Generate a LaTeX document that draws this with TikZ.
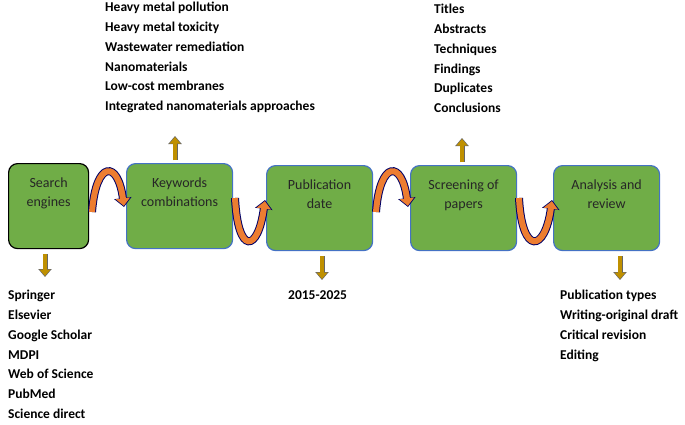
\documentclass[tikz,border=0pt]{standalone}
\usepackage{fontspec}
\setmainfont{Carlito}
\usetikzlibrary{arrows.meta}
\definecolor{gr}{RGB}{112,173,71}
\definecolor{bl}{RGB}{68,114,196}
\definecolor{og}{RGB}{237,125,49}
\definecolor{gd}{RGB}{191,144,0}
\begin{document}
\begin{tikzpicture}[x=1pt,y=-1pt,
  box/.style={draw=bl,line width=1.2pt,fill=gr,rounded corners=9pt,minimum width=106pt,minimum height=85pt,align=center,font=\fontsize{14}{19}\selectfont,anchor=north west,inner sep=0pt,text=black!85},
  lst/.style={anchor=north west,align=left,font=\bfseries\fontsize{13.5}{19.8}\selectfont,inner sep=0pt},
  curv/.style={line width=8pt,draw=blue!40!black,-{Triangle[width=17pt,length=9pt]},postaction={draw=og,line width=6pt,-{Triangle[width=14pt,length=7.5pt]},shorten >=1.2pt}}]
\useasboundingbox (0,0) rectangle (685,425);
\node[box,draw=black,minimum width=80pt,text depth=28pt] (b1) at (8,163) {Search\\engines};
\node[box,text depth=28pt] (b2) at (126,163) {Keywords\\combinations};
\node[box,text depth=28pt] (b3) at (266,165) {Publication\\date};
\node[box,text depth=28pt] (b4) at (410,165) {Screening of\\papers};
\node[box,text depth=28pt] (b5) at (553,165) {Analysis and\\review};
% gold arrows
\coordinate (g1a) at (45,254); \coordinate (g1b) at (45,277);
\coordinate (g2a) at (175,160); \coordinate (g2b) at (175,136);
\coordinate (g3a) at (322,256); \coordinate (g3b) at (322,280);
\coordinate (g4a) at (462,162); \coordinate (g4b) at (462,138);
\coordinate (g5a) at (620,256); \coordinate (g5b) at (620,280);
\foreach \a in {g1,g2,g3,g4,g5}{\draw[line width=5pt,draw=black!60,-{Triangle[width=13pt,length=8pt]}] (\a a)--(\a b);
 \draw[line width=3.6pt,draw=gd,-{Triangle[width=10.5pt,length=6.5pt]},shorten >=1pt] (\a a)--(\a b);}
% curved arrows
\coordinate (c1a) at (92,212); \coordinate (c1b) at (124,207);
\draw[curv] (c1a) .. controls (96,160) and (118,160) .. (c1b);
\coordinate (c2a) at (235,198); \coordinate (c2b) at (265,200);
\draw[curv] (c2a) .. controls (238,256) and (258,252) .. (c2b);
\coordinate (c3a) at (376,212); \coordinate (c3b) at (408,207);
\draw[curv] (c3a) .. controls (380,160) and (402,160) .. (c3b);
\coordinate (c4a) at (519,198); \coordinate (c4b) at (552,200);
\draw[curv] (c4a) .. controls (522,256) and (545,252) .. (c4b);
% lists
\node[lst] (l2) at (105,2) {Heavy metal pollution\\Heavy metal toxicity\\Wastewater remediation\\Nanomaterials\\Low-cost membranes\\Integrated nanomaterials approaches};
\node[lst] (l4) at (434,4) {Titles\\Abstracts\\Techniques\\Findings\\Duplicates\\Conclusions};
\node[lst] (l1) at (8,290) {Springer\\Elsevier\\Google Scholar\\MDPI\\Web of Science\\PubMed\\Science direct};
\node[lst] (l3) at (288,290) {2015-2025};
\node[lst] (l5) at (560,290) {Publication types\\Writing-original draft\\Critical revision\\Editing};
\end{tikzpicture}
\end{document}
